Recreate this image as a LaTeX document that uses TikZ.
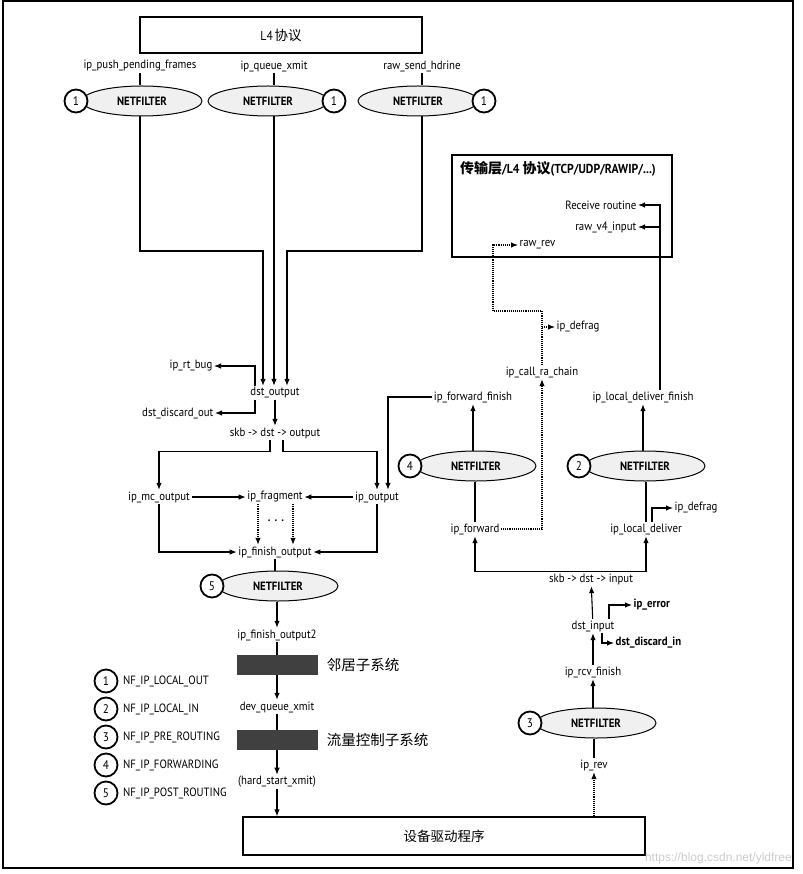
\documentclass[tikz,border=0pt]{standalone}
\usepackage{fontspec}
\usepackage{tikz}
\usetikzlibrary{shapes.geometric}
\usetikzlibrary{positioning}
\usetikzlibrary{arrows.meta}
\newfontfamily\fnfont{PT Sans}[FakeStretch=0.9]
\newfontfamily\cjk{Noto Sans CJK SC}
\newfontfamily\wmfont{Liberation Sans}
\tikzstyle{fnlabel} = [inner sep=1.5pt, font=\fnfont\fontsize{12}{13}\selectfont]
\tikzstyle{fnbold} = [fnlabel, font=\fnfont\bfseries\fontsize{12}{13}\selectfont]
\tikzstyle{netfilter} = [ellipse, draw=black, fill=gray!12, line width=1pt, minimum width=120pt, minimum height=30pt, font=\fnfont\bfseries\fontsize{12}{13}\selectfont]
\tikzstyle{hook} = [circle, draw=black, fill=white, line width=1.8pt, minimum size=23pt, inner sep=0pt, font=\fnfont\fontsize{12.5}{13}\selectfont]
\tikzstyle{layerbox} = [rectangle, draw=black, line width=1.2pt, text centered]
\tikzstyle{subsys} = [rectangle, fill=black!75, minimum width=81pt, minimum height=20pt]
\tikzstyle{cjklabel} = [inner sep=0pt, anchor=west, font=\cjk\fontsize{14.5}{16}\selectfont]
\tikzstyle{arrow} = [line width=1.1pt, -{Latex[length=7pt,width=5.5pt]}]
\tikzstyle{dotarrow} = [arrow, densely dotted]
\tikzstyle{link} = [line width=1.1pt]

\begin{document}
\begin{tikzpicture}[x=1pt, y=-1pt, node distance=66pt]
    \useasboundingbox (0,0) rectangle (802,874);
    \draw[line width=1.6pt] (3,1) rectangle (793,868);

    % L4 and the three output hooks
    \node (l4) [layerbox, minimum width=282pt, minimum height=36pt] at (281,35) {{\fnfont\fontsize{13}{14}\selectfont L4}\,{\cjk\fontsize{13.5}{14}\selectfont 协议}};
    \node (pushlbl) [fnlabel] at (140,66) {ip\_push\_pending\_frames};
    \node (queuelbl) [fnlabel] at (274,66) {ip\_queue\_xmit};
    \node (rawlbl) [fnlabel] at (422,66) {raw\_send\_hdrine};
    \node (nf1a) [netfilter] at (142,101) {NETFILTER};
    \node (nf1b) [netfilter] at (268,101) {NETFILTER};
    \node (nf1c) [netfilter] at (418,101) {NETFILTER};
    \node (h1a) [hook, left of=nf1a] {1};
    \node (h1b) [hook, right of=nf1b] {1};
    \node (h1c) [hook, right of=nf1c] {1};

    % output path
    \node (dstout) [fnlabel] at (275,393) {dst\_output};
    \node (rtbug) [fnlabel, anchor=east] at (214,366) {ip\_rt\_bug};
    \node (discout) [fnlabel, anchor=east] at (215,413) {dst\_discard\_out};
    \node (skbout) [fnlabel, below of=dstout, yshift=26pt] {skb -> dst -> output};
    \node (ipfrag) [fnlabel, below of=skbout, yshift=2pt] {ip\_fragment};
    \node (mcout) [fnlabel, left of=ipfrag, xshift=-50pt] {ip\_mc\_output};
    \node (ipout) [fnlabel, right of=ipfrag, xshift=36pt] {ip\_output};
    \node (dots) [fnbold] at (276,522) {·\,\,·\,\,·};
    \node (ipfinish) [fnlabel, below of=ipfrag, yshift=11pt] {ip\_finish\_output};
    \node (nf5) [netfilter, below of=ipfinish, yshift=32pt, xshift=3pt] {NETFILTER};
    \node (h5) [hook, left of=nf5] {5};
    \node (ipfinish2) [fnlabel, below of=nf5, yshift=17pt, xshift=-1pt] {ip\_finish\_output2};
    \node (nbrbox) [subsys, below of=ipfinish2, yshift=36pt] {};
    \node (nbrlbl) [cjklabel, right=9pt of nbrbox] {邻居子系统};
    \node (devq) [fnlabel, below of=nbrbox, yshift=24pt] {dev\_queue\_xmit};
    \node (tcbox) [subsys, below of=devq, yshift=33pt] {};
    \node (tclbl) [cjklabel, right=9pt of tcbox] {流量控制子系统};
    \node (hardx) [fnlabel, below of=tcbox, yshift=24pt] {(hard\_start\_xmit)};
    \node (driver) [layerbox, minimum width=402pt, minimum height=38pt] at (444,836) {\cjk\fontsize{13.5}{14}\selectfont 设备驱动程序};

    % hook legend
    \node (lg1) [hook] at (106,681) {1};
    \node (lg2) [hook, below of=lg1, yshift=38pt] {2};
    \node (lg3) [hook, below of=lg2, yshift=38pt] {3};
    \node (lg4) [hook, below of=lg3, yshift=38pt] {4};
    \node (lg5) [hook, below of=lg4, yshift=38pt] {5};
    \node (lg1t) [fnlabel, right=3pt of lg1] {NF\_IP\_LOCAL\_OUT};
    \node (lg2t) [fnlabel, right=3pt of lg2] {NF\_IP\_LOCAL\_IN};
    \node (lg3t) [fnlabel, right=3pt of lg3] {NF\_IP\_PRE\_ROUTING};
    \node (lg4t) [fnlabel, right=3pt of lg4] {NF\_IP\_FORWARDING};
    \node (lg5t) [fnlabel, right=3pt of lg5] {NF\_IP\_POST\_ROUTING};

    % input path
    \node (transport) [layerbox, minimum width=220pt, minimum height=102pt] at (562,206) {};
    \node (tptitle) [anchor=north west, inner sep=0pt] at (460,161) {{\cjk\bfseries\fontsize{14}{16}\selectfont 传输层}{\fnfont\bfseries\fontsize{13}{14}\selectfont /L4 }{\cjk\bfseries\fontsize{14}{16}\selectfont 协议}{\fnfont\bfseries\fontsize{13}{14}\selectfont (TCP/UDP/RAWIP/...)}};
    \node (recv) [fnlabel, anchor=east] at (638,205) {Receive routine};
    \node (raw4) [fnlabel, anchor=east] at (638,227) {raw\_v4\_input};
    \node (rawrev) [fnlabel, anchor=west] at (518,245) {raw\_rev};
    \node (defrag1) [fnlabel, anchor=west] at (555,327) {ip\_defrag};
    \node (racall) [fnlabel] at (542,372) {ip\_call\_ra\_chain};
    \node (fwdfin) [fnlabel] at (473,397) {ip\_forward\_finish};
    \node (ldfinish) [fnlabel] at (643,397) {ip\_local\_deliver\_finish};
    \node (nf4) [netfilter] at (476,466) {NETFILTER};
    \node (h4) [hook, left of=nf4] {4};
    \node (nf2) [netfilter] at (645,466) {NETFILTER};
    \node (h2) [hook, left of=nf2] {2};
    \node (ipfwd) [fnlabel] at (475,529) {ip\_forward};
    \node (ldeliver) [fnlabel] at (646,529) {ip\_local\_deliver};
    \node (defrag2) [fnlabel, anchor=west] at (673,508) {ip\_defrag};
    \node (skbin) [fnlabel] at (591,579) {skb -> dst -> input};
    \node (dstin) [fnlabel] at (593,626) {dst\_input};
    \node (iperror) [fnbold, anchor=west] at (632,605) {ip\_error};
    \node (discin) [fnbold, anchor=west] at (614,643) {dst\_discard\_in};
    \node (rcvfin) [fnlabel] at (593,672) {ip\_rcv\_finish};
    \node (nf3) [netfilter] at (596,723) {NETFILTER};
    \node (h3) [hook, left of=nf3] {3};
    \node (iprev) [fnlabel] at (594,765) {ip\_rev};

    \node (wm) [anchor=east, inner sep=0pt, text=gray!40, font=\wmfont\fontsize{12}{12}\selectfont] at (792,858) {https://blog.csdn.net/yldfree};

    % connectors, output side
    \coordinate (in1) at ([xshift=-12pt]dstout.north);
    \coordinate (in3) at ([xshift=12pt]dstout.north);
    \draw[link] (pushlbl) -- (pushlbl.south |- nf1a.north);
    \draw[link] (queuelbl) -- (queuelbl.south |- nf1b.north);
    \draw[link] (rawlbl) -- (rawlbl.south |- nf1c.north);
    \draw[arrow] (pushlbl.south |- nf1a.south) -- (pushlbl.south |- 0,251) -| (in1);
    \draw[arrow] (queuelbl.south |- nf1b.south) -- (queuelbl.south |- dstout.north);
    \draw[arrow] (rawlbl.south |- nf1c.south) -- (rawlbl.south |- 0,251) -| (in3);
    \draw[arrow] ([xshift=-20pt]dstout.north) |- (rtbug);
    \draw[arrow] ([xshift=-20pt]dstout.south) |- (discout);
    \draw[arrow] (dstout) -- (skbout);
    \draw[arrow] ([xshift=-5pt]skbout.south) -- ++(0,11) -| (mcout);
    \draw[arrow] ([xshift=8pt]skbout.south) -- ++(0,11) -| (ipout);
    \draw[arrow] (fwdfin.west) -| ([xshift=11pt]ipout.north);
    \draw[arrow] (mcout) -- (ipfrag);
    \draw[arrow] (ipout) -- (ipfrag);
    \draw[dotarrow] ([xshift=-17pt]ipfrag.south) -- ([xshift=-17pt]ipfinish.north);
    \draw[dotarrow] ([xshift=18pt]ipfrag.south) -- ([xshift=18pt]ipfinish.north);
    \draw[arrow] (mcout) |- (ipfinish);
    \draw[arrow] (ipout) |- (ipfinish);
    \draw[link] (ipfinish) -- (ipfinish.south |- nf5.north);
    \draw[arrow] (ipfinish2.north |- nf5.south) -- (ipfinish2);
    \draw[link] (ipfinish2) -- (nbrbox);
    \draw[arrow] (nbrbox) -- (devq);
    \draw[link] (devq) -- (tcbox);
    \draw[arrow] (tcbox) -- (hardx);
    \draw[arrow] (hardx) -- (hardx.south |- driver.north);

    % connectors, input side
    \coordinate (bend) at (493,311);
    \coordinate (upl) at ([xshift=17pt]ldfinish.north);
    \draw[arrow] (fwdfin.south |- nf4.north) -- (fwdfin);
    \draw[link] (ipfwd) -- (ipfwd.north |- nf4.south);
    \draw[dotarrow] (ipfwd) -| (racall);
    \draw[dotarrow] (racall) |- (bend) |- (rawrev);
    \draw[dotarrow] (racall.north |- defrag1) -- (defrag1);
    \draw[arrow] (upl) |- (recv);
    \draw[arrow] (upl |- raw4) -- (raw4);
    \draw[arrow] (ldfinish.south |- nf2.north) -- (ldfinish);
    \draw[link] (ldeliver) -- (ldeliver.north |- nf2.south);
    \draw[arrow] ([xshift=6pt]ldeliver.north) |- (defrag2);
    \draw[arrow] (skbin.north) -| (ipfwd);
    \draw[arrow] (skbin.north) -| (ldeliver);
    \draw[arrow] (dstin) -- (skbin);
    \draw[arrow] ([xshift=16pt]dstin.north) |- (iperror);
    \draw[arrow] ([xshift=9pt]dstin.south) |- (discin);
    \draw[arrow] (rcvfin) -- (dstin);
    \draw[arrow] (rcvfin.south |- nf3.north) -- (rcvfin);
    \draw[link] (iprev) -- (iprev.north |- nf3.south);
    \draw[dotarrow] (iprev.south |- driver.north) -- (iprev);
\end{tikzpicture}
\end{document}
